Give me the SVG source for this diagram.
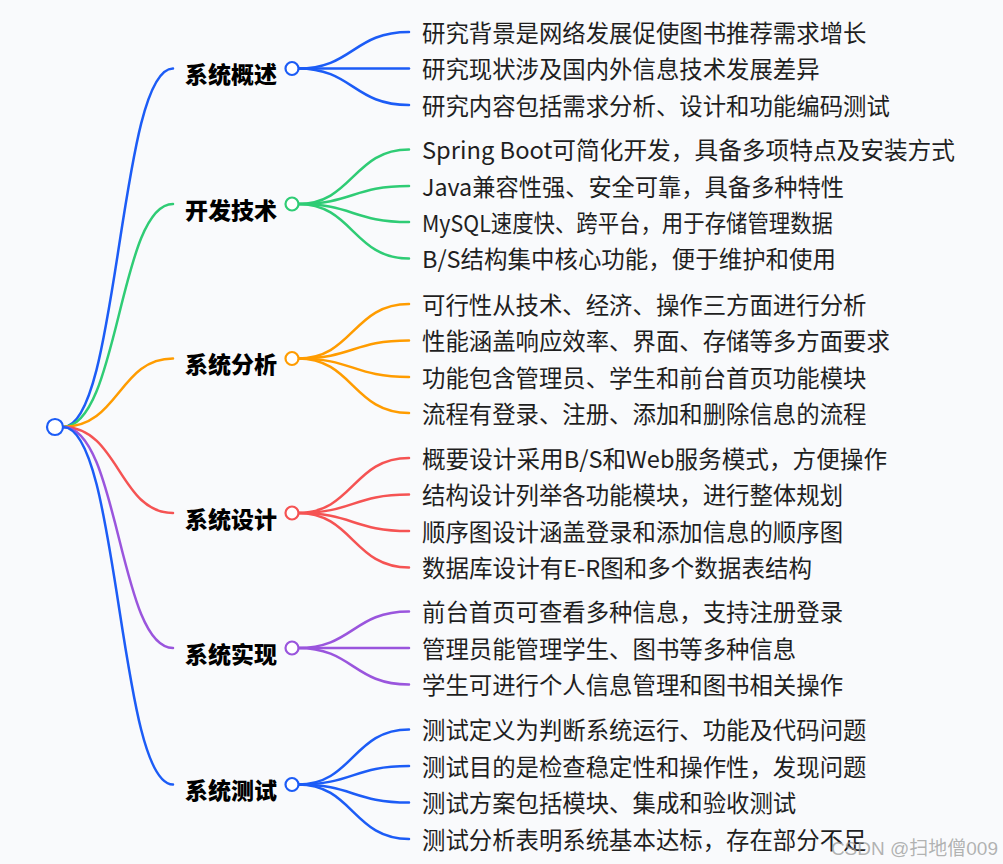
<svg xmlns="http://www.w3.org/2000/svg" width="1003" height="864" viewBox="0 0 1003 864">
<style>
.bg{fill:#f9fafc}
.link{fill:none;stroke-width:2.5;stroke-linecap:round}
.dot{fill:#ffffff;stroke-width:2.2}
.cat{font-family:"Noto Sans CJK SC","Microsoft YaHei",sans-serif;font-size:23px;font-weight:900;fill:#000000}
.leaf{font-family:"Noto Sans CJK SC","Microsoft YaHei",sans-serif;font-size:23.4px;fill:#1f1f1f}
.wm{font-family:"Liberation Sans","Noto Sans CJK SC",sans-serif;font-size:19px;fill:#9a9a9a;fill-opacity:0.75}
.b{stroke:#1c5cf6}.g{stroke:#2fcc75}.o{stroke:#ff9c00}.r{stroke:#f55353}.p{stroke:#9a55dd}
</style>
<rect class="bg" x="0" y="0" width="1003" height="864"/>
<g id="connectors">
  <path class="link b" d="M63,427 C119,427 119,68.5 173,68.5"/>
  <path class="link g" d="M63,427 C119,427 119,204 173,204"/>
  <path class="link o" d="M63,427 C119,427 119,358.5 173,358.5"/>
  <path class="link r" d="M63,427 C119,427 119,513 173,513"/>
  <path class="link p" d="M63,427 C119,427 119,648 173,648"/>
  <path class="link b" d="M63,427 C119,427 119,784.5 173,784.5"/>

  <path class="link b" d="M298,68.5 C353,68.5 353,32 409,32"/>
  <path class="link b" d="M298,68.5 C353,68.5 353,68.5 409,68.5"/>
  <path class="link b" d="M298,68.5 C353,68.5 353,105 409,105"/>

  <path class="link g" d="M298,204 C353,204 353,149.5 409,149.5"/>
  <path class="link g" d="M298,204 C353,204 353,186 409,186"/>
  <path class="link g" d="M298,204 C353,204 353,222 409,222"/>
  <path class="link g" d="M298,204 C353,204 353,258.5 409,258.5"/>

  <path class="link o" d="M298,358.5 C353,358.5 353,304 409,304"/>
  <path class="link o" d="M298,358.5 C353,358.5 353,340.5 409,340.5"/>
  <path class="link o" d="M298,358.5 C353,358.5 353,377 409,377"/>
  <path class="link o" d="M298,358.5 C353,358.5 353,413 409,413"/>

  <path class="link r" d="M298,513 C353,513 353,458 409,458"/>
  <path class="link r" d="M298,513 C353,513 353,494.5 409,494.5"/>
  <path class="link r" d="M298,513 C353,513 353,531 409,531"/>
  <path class="link r" d="M298,513 C353,513 353,567.5 409,567.5"/>

  <path class="link p" d="M298,648 C353,648 353,611.5 409,611.5"/>
  <path class="link p" d="M298,648 C353,648 353,648 409,648"/>
  <path class="link p" d="M298,648 C353,648 353,684.5 409,684.5"/>

  <path class="link b" d="M298,784.5 C353,784.5 353,729.5 409,729.5"/>
  <path class="link b" d="M298,784.5 C353,784.5 353,766 409,766"/>
  <path class="link b" d="M298,784.5 C353,784.5 353,802.5 409,802.5"/>
  <path class="link b" d="M298,784.5 C353,784.5 353,839 409,839"/>
</g>

<g id="root"><circle class="dot b" cx="55" cy="427" r="8"/></g>

<g id="n1">
  <text class="cat" x="185" y="83">系统概述</text>
  <circle class="dot b" cx="292" cy="68.5" r="6.5"/>
</g>
<g id="n1-leaves">
  <text class="leaf" x="422" y="41.5">研究背景是网络发展促使图书推荐需求增长</text>
  <text class="leaf" x="422" y="78">研究现状涉及国内外信息技术发展差异</text>
  <text class="leaf" x="422" y="114.5">研究内容包括需求分析、设计和功能编码测试</text>
</g>

<g id="n2">
  <text class="cat" x="185" y="218.5">开发技术</text>
  <circle class="dot g" cx="292" cy="204" r="6.5"/>
</g>
<g id="n2-leaves">
  <text class="leaf" x="422" y="159" textLength="533" lengthAdjust="spacingAndGlyphs">Spring Boot可简化开发，具备多项特点及安装方式</text>
  <text class="leaf" x="422" y="195.5" textLength="422" lengthAdjust="spacingAndGlyphs">Java兼容性强、安全可靠，具备多种特性</text>
  <text class="leaf" x="422" y="231.5" textLength="411" lengthAdjust="spacingAndGlyphs">MySQL速度快、跨平台，用于存储管理数据</text>
  <text class="leaf" x="422" y="268" textLength="414" lengthAdjust="spacingAndGlyphs">B/S结构集中核心功能，便于维护和使用</text>
</g>

<g id="n3">
  <text class="cat" x="185" y="373">系统分析</text>
  <circle class="dot o" cx="292" cy="358.5" r="6.5"/>
</g>
<g id="n3-leaves">
  <text class="leaf" x="422" y="313.5">可行性从技术、经济、操作三方面进行分析</text>
  <text class="leaf" x="422" y="350">性能涵盖响应效率、界面、存储等多方面要求</text>
  <text class="leaf" x="422" y="386.5">功能包含管理员、学生和前台首页功能模块</text>
  <text class="leaf" x="422" y="422.5">流程有登录、注册、添加和删除信息的流程</text>
</g>

<g id="n4">
  <text class="cat" x="185" y="527.5">系统设计</text>
  <circle class="dot r" cx="292" cy="513" r="6.5"/>
</g>
<g id="n4-leaves">
  <text class="leaf" x="422" y="467.5" textLength="465" lengthAdjust="spacingAndGlyphs">概要设计采用B/S和Web服务模式，方便操作</text>
  <text class="leaf" x="422" y="504">结构设计列举各功能模块，进行整体规划</text>
  <text class="leaf" x="422" y="540.5">顺序图设计涵盖登录和添加信息的顺序图</text>
  <text class="leaf" x="422" y="577" textLength="390" lengthAdjust="spacingAndGlyphs">数据库设计有E-R图和多个数据表结构</text>
</g>

<g id="n5">
  <text class="cat" x="185" y="662.5">系统实现</text>
  <circle class="dot p" cx="292" cy="648" r="6.5"/>
</g>
<g id="n5-leaves">
  <text class="leaf" x="422" y="621">前台首页可查看多种信息，支持注册登录</text>
  <text class="leaf" x="422" y="657.5">管理员能管理学生、图书等多种信息</text>
  <text class="leaf" x="422" y="694">学生可进行个人信息管理和图书相关操作</text>
</g>

<g id="n6">
  <text class="cat" x="185" y="799">系统测试</text>
  <circle class="dot b" cx="292" cy="784.5" r="6.5"/>
</g>
<g id="n6-leaves">
  <text class="leaf" x="422" y="739">测试定义为判断系统运行、功能及代码问题</text>
  <text class="leaf" x="422" y="775.5">测试目的是检查稳定性和操作性，发现问题</text>
  <text class="leaf" x="422" y="812">测试方案包括模块、集成和验收测试</text>
  <text class="leaf" x="422" y="848.5">测试分析表明系统基本达标，存在部分不足</text>
</g>

<text class="wm" x="998" y="855" text-anchor="end">CSDN @扫地僧009</text>
</svg>
